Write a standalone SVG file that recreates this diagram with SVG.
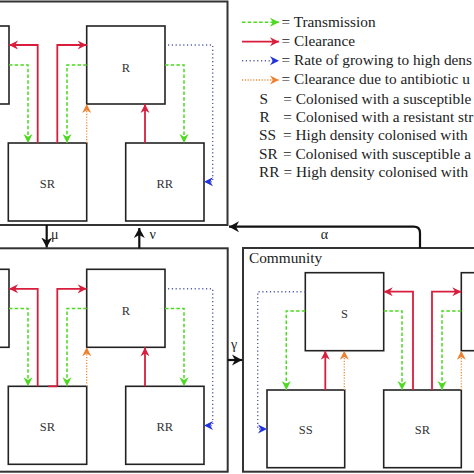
<svg xmlns="http://www.w3.org/2000/svg" width="474" height="474" viewBox="0 0 474 474">
<defs>
<style>
.panel{fill:#fff;stroke:#333;stroke-width:2}
.box{fill:#fff;stroke:#222;stroke-width:1.6}
.lbl{font-family:"Liberation Serif","Times New Roman",serif;font-size:12.5px;fill:#333;text-anchor:middle}
.leg{font-family:"Liberation Serif","Times New Roman",serif;font-size:15.3px;fill:#222}
.greek{font-family:"Liberation Serif","Times New Roman",serif;font-size:14px;fill:#222}
.tr{fill:none;stroke:#4cd91f;stroke-width:1.5;stroke-dasharray:3.5,2.2;marker-end:url(#ag)}
.cl{fill:none;stroke:#d81e3c;stroke-width:1.8;marker-end:url(#ar)}
.gr{fill:none;stroke:#5560a8;stroke-width:1.4;stroke-dasharray:1.2,2.6;marker-end:url(#ab)}
.ab{fill:none;stroke:#e8903c;stroke-width:1.3;stroke-dasharray:1.2,1.6;marker-end:url(#ao)}
.bk{fill:none;stroke:#111;stroke-width:2.2;marker-end:url(#ak)}
</style>
<marker id="ag" markerUnits="userSpaceOnUse" markerWidth="10" markerHeight="10" refX="9" refY="5" orient="auto"><path d="M0,0.5 L9,5 L0,9.5 L2.8,5 z" fill="#4cd91f"/></marker>
<marker id="ar" markerUnits="userSpaceOnUse" markerWidth="10" markerHeight="10" refX="9" refY="5" orient="auto"><path d="M0,0.5 L9,5 L0,9.5 L2.8,5 z" fill="#d81e3c"/></marker>
<marker id="ab" markerUnits="userSpaceOnUse" markerWidth="10" markerHeight="10" refX="9" refY="5" orient="auto"><path d="M0,0.5 L9,5 L0,9.5 L2.8,5 z" fill="#2233dd"/></marker>
<marker id="ao" markerUnits="userSpaceOnUse" markerWidth="10" markerHeight="10" refX="9" refY="5" orient="auto"><path d="M0,0.5 L9,5 L0,9.5 L2.8,5 z" fill="#ee8030"/></marker>
<marker id="ak" markerUnits="userSpaceOnUse" markerWidth="12" markerHeight="12" refX="10" refY="6" orient="auto"><path d="M0,0.5 L10,6 L0,11.5 L3,6 z" fill="#111"/></marker>
</defs>

<!-- panels -->
<g id="panel-top"><rect class="panel" x="-10" y="1.5" width="237.5" height="223.5"/></g>
<g id="panel-bottom"><rect class="panel" x="-10" y="248.3" width="237.7" height="223.4"/></g>
<g id="panel-community"><rect class="panel" x="243" y="248" width="241" height="223.7"/>
<text class="leg" x="249" y="263">Community</text></g>

<!-- top panel nodes -->
<g id="top-S"><rect class="box" x="-70" y="26" width="79" height="78"/></g>
<g id="top-R"><rect class="box" x="86.7" y="26" width="78.3" height="78"/><text class="lbl" x="125.8" y="71.5">R</text></g>
<g id="top-SR"><rect class="box" x="8.3" y="143" width="78.4" height="78"/><text class="lbl" x="47.5" y="187.5">SR</text></g>
<g id="top-RR"><rect class="box" x="125.7" y="143" width="78.3" height="78"/><text class="lbl" x="164.8" y="187.5">RR</text></g>

<!-- bottom panel nodes -->
<g id="bot-S"><rect class="box" x="-70" y="269.3" width="79" height="78"/></g>
<g id="bot-R"><rect class="box" x="86.7" y="269.3" width="78.3" height="78"/><text class="lbl" x="125.8" y="314.8">R</text></g>
<g id="bot-SR"><rect class="box" x="8.3" y="386.3" width="78.4" height="78"/><text class="lbl" x="47.5" y="430.8">SR</text></g>
<g id="bot-RR"><rect class="box" x="125.7" y="386.3" width="78.3" height="78"/><text class="lbl" x="164.8" y="430.8">RR</text></g>

<!-- community nodes -->
<g id="com-S"><rect class="box" x="305.3" y="272.7" width="78.4" height="78"/><text class="lbl" x="344.5" y="317.5">S</text></g>
<g id="com-SS"><rect class="box" x="267" y="390" width="77.7" height="77.7"/><text class="lbl" x="305.8" y="434">SS</text></g>
<g id="com-SR"><rect class="box" x="383.7" y="390" width="77.6" height="77.7"/><text class="lbl" x="422.5" y="434">SR</text></g>
<g id="com-R"><rect class="box" x="461.3" y="272.7" width="80" height="78"/></g>

<!-- connectors -->
<g id="connectors">
<!-- top panel -->
<path class="cl" d="M37.7,143 V45 H9"/>
<path class="cl" d="M57.3,143 V45 H86.7"/>
<path class="tr" d="M9,65 H28 V143"/>
<path class="tr" d="M86.7,65 H67 V143"/>
<path class="ab" d="M86.7,143 V104"/>
<path class="cl" d="M145,143 V104"/>
<path class="tr" d="M165,65 H184 V143"/>
<path class="gr" d="M168,45 H212.7 V181.7 H204"/>
<!-- bottom panel -->
<path class="cl" d="M37.7,386.3 V288.8 H9"/>
<path class="cl" d="M57.3,386.3 V288.8 H86.7"/>
<path d="M48.3,386.3 H57.3" stroke="#d81e3c" stroke-width="1.8"/>
<path class="tr" d="M9,308.5 H28 V386.3"/>
<path class="tr" d="M86.7,308.5 H67 V386.3"/>
<path class="ab" d="M86.7,386.3 V347.3"/>
<path class="cl" d="M145,386.3 V347.3"/>
<path class="tr" d="M165,308.5 H184 V386.3"/>
<path class="gr" d="M168,288.8 H212.7 V425.5 H204"/>
<!-- community -->
<path class="gr" d="M305.3,291.7 H257.7 V429 H267"/>
<path class="tr" d="M305.3,311 H286.3 V390"/>
<path class="cl" d="M325.3,390 V350.7"/>
<path class="ab" d="M344.3,390 V350.7"/>
<path class="tr" d="M383.7,311 H402 V390"/>
<path class="cl" d="M413,390 V291.7 H383.7"/>
<path class="cl" d="M432,390 V291.7 H461.3"/>
<path class="tr" d="M461.3,311 H442 V390"/>
<path class="ab" d="M461.3,390 V350.7"/>
<!-- between compartments -->
<path class="bk" d="M46.7,225 V247.5"/>
<path class="bk" d="M139.3,248.3 V228"/>
<path class="bk" d="M227.7,360 H242"/>
<path class="bk" d="M420,248 V233 Q420,226.7 413.7,226.7 H229"/>
<text class="greek" x="51" y="239">μ</text>
<text class="greek" x="149.5" y="239">ν</text>
<text class="greek" x="231" y="349">γ</text>
<text class="greek" x="324.3" y="239" text-anchor="middle">α</text>
</g>

<!-- legend -->
<g id="legend">
<path class="tr" d="M242,22.3 H279"/>
<path class="cl" d="M242,41.7 H279"/>
<path class="gr" d="M242,60.7 H279"/>
<path class="ab" d="M242,80 H279" stroke="#f0b080"/>
<text class="leg" x="281.5" y="27">= Transmission</text>
<text class="leg" x="281.5" y="46">= Clearance</text>
<text class="leg" x="281.5" y="65">= Rate of growing to high dens</text>
<text class="leg" x="281.5" y="84">= Clearance due to antibiotic u</text>
<text class="leg" x="259.5" y="103.8">S</text><text class="leg" x="283.3" y="103.8">= Colonised with a susceptible</text>
<text class="leg" x="259.5" y="121.8">R</text><text class="leg" x="283.3" y="121.8">= Colonised with a resistant str</text>
<text class="leg" x="259" y="140">SS</text><text class="leg" x="283" y="140">= High density colonised with</text>
<text class="leg" x="259" y="158.5">SR</text><text class="leg" x="283" y="158.5">= Colonised with susceptible a</text>
<text class="leg" x="259" y="177">RR</text><text class="leg" x="283.5" y="177">= High density colonised with</text>
</g>
</svg>
